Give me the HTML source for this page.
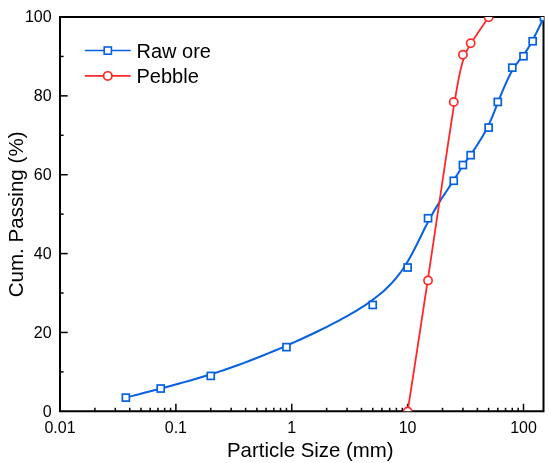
<!DOCTYPE html>
<html><head><meta charset="utf-8"><title>Particle size distribution</title>
<style>html,body{margin:0;padding:0;background:#fff;}body{width:550px;height:463px;overflow:hidden;}svg{display:block;}text{font-family:"Liberation Sans",sans-serif;fill:#000;}</style></head><body>
<svg width="550" height="463" viewBox="0 0 550 463">
<rect width="550" height="463" fill="#fff"/>
<defs><clipPath id="plot"><rect x="60" y="17" width="483.7" height="394.3"/></clipPath></defs>
<g stroke="#000" stroke-width="2" fill="none" stroke-linecap="butt">
<path d="M60,412.3 V16 M59,17 H544.5 M543.5,16 V412.3 M59,411.3 H544.5"/>
</g><g stroke="#000" stroke-width="1.5" fill="none">
<line x1="60" y1="371.87" x2="63.60" y2="371.87"/>
<line x1="60" y1="332.44" x2="67.70" y2="332.44"/>
<line x1="60" y1="293.01" x2="63.60" y2="293.01"/>
<line x1="60" y1="253.58" x2="67.70" y2="253.58"/>
<line x1="60" y1="214.15" x2="63.60" y2="214.15"/>
<line x1="60" y1="174.72" x2="67.70" y2="174.72"/>
<line x1="60" y1="135.29" x2="63.60" y2="135.29"/>
<line x1="60" y1="95.86" x2="67.70" y2="95.86"/>
<line x1="60" y1="56.43" x2="63.60" y2="56.43"/>
<line x1="94.88" y1="411.3" x2="94.88" y2="407.80"/>
<line x1="115.29" y1="411.3" x2="115.29" y2="407.80"/>
<line x1="129.76" y1="411.3" x2="129.76" y2="407.80"/>
<line x1="140.99" y1="411.3" x2="140.99" y2="407.80"/>
<line x1="150.17" y1="411.3" x2="150.17" y2="407.80"/>
<line x1="157.93" y1="411.3" x2="157.93" y2="407.80"/>
<line x1="164.65" y1="411.3" x2="164.65" y2="407.80"/>
<line x1="170.57" y1="411.3" x2="170.57" y2="407.80"/>
<line x1="175.88" y1="411.3" x2="175.88" y2="403.80"/>
<line x1="210.76" y1="411.3" x2="210.76" y2="407.80"/>
<line x1="231.16" y1="411.3" x2="231.16" y2="407.80"/>
<line x1="245.64" y1="411.3" x2="245.64" y2="407.80"/>
<line x1="256.87" y1="411.3" x2="256.87" y2="407.80"/>
<line x1="266.04" y1="411.3" x2="266.04" y2="407.80"/>
<line x1="273.80" y1="411.3" x2="273.80" y2="407.80"/>
<line x1="280.52" y1="411.3" x2="280.52" y2="407.80"/>
<line x1="286.45" y1="411.3" x2="286.45" y2="407.80"/>
<line x1="291.75" y1="411.3" x2="291.75" y2="403.80"/>
<line x1="326.63" y1="411.3" x2="326.63" y2="407.80"/>
<line x1="347.04" y1="411.3" x2="347.04" y2="407.80"/>
<line x1="361.51" y1="411.3" x2="361.51" y2="407.80"/>
<line x1="372.74" y1="411.3" x2="372.74" y2="407.80"/>
<line x1="381.92" y1="411.3" x2="381.92" y2="407.80"/>
<line x1="389.68" y1="411.3" x2="389.68" y2="407.80"/>
<line x1="396.40" y1="411.3" x2="396.40" y2="407.80"/>
<line x1="402.32" y1="411.3" x2="402.32" y2="407.80"/>
<line x1="407.62" y1="411.3" x2="407.62" y2="403.80"/>
<line x1="442.51" y1="411.3" x2="442.51" y2="407.80"/>
<line x1="462.91" y1="411.3" x2="462.91" y2="407.80"/>
<line x1="477.39" y1="411.3" x2="477.39" y2="407.80"/>
<line x1="488.62" y1="411.3" x2="488.62" y2="407.80"/>
<line x1="497.79" y1="411.3" x2="497.79" y2="407.80"/>
<line x1="505.55" y1="411.3" x2="505.55" y2="407.80"/>
<line x1="512.27" y1="411.3" x2="512.27" y2="407.80"/>
<line x1="518.20" y1="411.3" x2="518.20" y2="407.80"/>
<line x1="523.50" y1="411.3" x2="523.50" y2="403.80"/>
</g>
<g font-size="16px">
<text x="51.6" y="416.80" text-anchor="end">0</text>
<text x="51.6" y="337.84" text-anchor="end">20</text>
<text x="51.6" y="258.88" text-anchor="end">40</text>
<text x="51.6" y="179.92" text-anchor="end">60</text>
<text x="51.6" y="100.96" text-anchor="end">80</text>
<text x="51.6" y="22.00" text-anchor="end">100</text>
<text x="60.00" y="433" text-anchor="middle">0.01</text>
<text x="175.88" y="433" text-anchor="middle">0.1</text>
<text x="291.75" y="433" text-anchor="middle">1</text>
<text x="407.62" y="433" text-anchor="middle">10</text>
<text x="523.50" y="433" text-anchor="middle">100</text>
</g>
<text x="310.3" y="456.6" font-size="20.4px" text-anchor="middle">Particle Size (mm)</text>
<text transform="translate(22.9,214.4) rotate(-90)" font-size="20.6px" text-anchor="middle">Cum. Passing (%)</text>
<g clip-path="url(#plot)">
<path d="M125.84,397.60 L132.55,395.86 L139.03,394.18 L145.29,392.56 L151.34,390.98 L157.21,389.45 L162.91,387.95 L168.46,386.48 L173.87,385.02 L179.16,383.58 L184.35,382.14 L189.46,380.70 L194.49,379.25 L199.47,377.78 L204.42,376.28 L209.35,374.76 L214.27,373.19 L219.20,371.58 L224.14,369.93 L229.09,368.23 L234.05,366.49 L239.02,364.70 L244.01,362.86 L249.03,360.98 L254.07,359.04 L259.14,357.05 L264.23,355.02 L269.36,352.92 L274.52,350.78 L279.73,348.58 L284.97,346.33 L290.25,344.02 L295.58,341.65 L300.92,339.23 L306.27,336.77 L311.61,334.27 L316.91,331.73 L322.17,329.17 L327.36,326.58 L332.47,323.97 L337.48,321.34 L342.37,318.70 L347.13,316.06 L351.74,313.42 L356.18,310.79 L360.43,308.16 L364.48,305.55 L368.31,302.96 L371.94,300.39 L375.36,297.82 L378.60,295.27 L381.67,292.71 L384.56,290.15 L387.30,287.58 L389.89,285.00 L392.35,282.40 L394.68,279.78 L396.89,277.14 L399.00,274.46 L401.01,271.75 L402.94,269.00 L404.79,266.20 L406.58,263.35 L408.32,260.46 L410.00,257.53 L411.63,254.57 L413.22,251.58 L414.78,248.57 L416.31,245.56 L417.81,242.53 L419.29,239.51 L420.76,236.49 L422.22,233.49 L423.68,230.50 L425.15,227.55 L426.62,224.63 L428.11,221.75 L429.61,218.91 L431.14,216.13 L432.67,213.40 L434.22,210.73 L435.77,208.12 L437.31,205.57 L438.84,203.09 L440.36,200.67 L441.85,198.33 L443.32,196.06 L444.75,193.86 L446.13,191.75 L447.48,189.72 L448.76,187.77 L449.99,185.91 L451.16,184.14 L452.25,182.46 L453.28,180.87 L454.25,179.36 L455.16,177.93 L456.01,176.58 L456.82,175.29 L457.58,174.07 L458.31,172.91 L458.99,171.81 L459.65,170.76 L460.28,169.76 L460.88,168.80 L461.46,167.88 L462.03,166.99 L462.59,166.14 L463.14,165.31 L463.69,164.50 L464.24,163.71 L464.79,162.92 L465.35,162.13 L465.91,161.33 L466.49,160.52 L467.09,159.69 L467.70,158.83 L468.34,157.94 L469.01,157.02 L469.70,156.04 L470.42,155.01 L471.19,153.92 L471.98,152.77 L472.83,151.54 L473.71,150.25 L474.62,148.88 L475.57,147.45 L476.54,145.97 L477.54,144.43 L478.54,142.85 L479.56,141.23 L480.57,139.58 L481.59,137.90 L482.60,136.19 L483.60,134.47 L484.58,132.73 L485.53,130.99 L486.46,129.24 L487.36,127.50 L488.22,125.77 L489.05,124.04 L489.84,122.32 L490.62,120.59 L491.37,118.86 L492.11,117.12 L492.83,115.37 L493.54,113.61 L494.25,111.83 L494.96,110.03 L495.67,108.21 L496.39,106.37 L497.12,104.50 L497.86,102.59 L498.62,100.66 L499.40,98.69 L500.20,96.69 L501.02,94.67 L501.86,92.63 L502.71,90.60 L503.57,88.57 L504.44,86.56 L505.31,84.57 L506.19,82.61 L507.07,80.70 L507.95,78.83 L508.82,77.03 L509.69,75.29 L510.55,73.63 L511.41,72.05 L512.24,70.57 L513.07,69.18 L513.88,67.87 L514.69,66.63 L515.48,65.46 L516.27,64.34 L517.06,63.27 L517.84,62.23 L518.62,61.21 L519.40,60.22 L520.18,59.23 L520.97,58.23 L521.76,57.23 L522.55,56.20 L523.36,55.14 L524.17,54.04 L525.00,52.89 L525.86,51.65 L526.74,50.32 L527.68,48.85 L528.67,47.23 L529.72,45.43 L530.85,43.44 L532.07,41.21 L533.39,38.73 L534.81,35.98 L536.35,32.92 L538.02,29.54 L539.83,25.81 L541.79,21.70 L543.90,17.20" fill="none" stroke="#0560E2" stroke-width="2" stroke-linejoin="round"/>
<path d="M407.62,411.40 L408.54,405.51 L409.45,399.68 L410.35,393.90 L411.23,388.18 L412.11,382.51 L412.98,376.90 L413.84,371.35 L414.68,365.85 L415.52,360.41 L416.35,355.03 L417.17,349.70 L417.97,344.43 L418.77,339.21 L419.56,334.05 L420.34,328.94 L421.11,323.89 L421.87,318.89 L422.62,313.95 L423.36,309.06 L424.09,304.23 L424.82,299.45 L425.53,294.73 L426.24,290.06 L426.93,285.45 L427.62,280.89 L428.30,276.38 L428.97,271.93 L429.63,267.54 L430.28,263.19 L430.92,258.90 L431.56,254.67 L432.18,250.49 L432.80,246.36 L433.41,242.28 L434.01,238.26 L434.60,234.29 L435.18,230.38 L435.76,226.52 L436.32,222.71 L436.88,218.95 L437.43,215.25 L437.98,211.60 L438.51,208.00 L439.04,204.45 L439.55,200.96 L440.07,197.52 L440.57,194.13 L441.06,190.79 L441.55,187.51 L442.03,184.27 L442.50,181.09 L442.97,177.96 L443.43,174.88 L443.88,171.85 L444.32,168.88 L444.75,165.95 L445.18,163.08 L445.60,160.26 L446.02,157.49 L446.42,154.77 L446.82,152.10 L447.22,149.48 L447.60,146.91 L447.98,144.39 L448.35,141.92 L448.72,139.51 L449.08,137.14 L449.43,134.82 L449.77,132.55 L450.11,130.33 L450.45,128.16 L450.77,126.04 L451.09,123.96 L451.41,121.92 L451.72,119.94 L452.02,117.99 L452.32,116.09 L452.61,114.24 L452.90,112.42 L453.18,110.65 L453.46,108.92 L453.73,107.23 L453.99,105.58 L454.25,103.97 L454.51,102.39 L454.76,100.86 L455.01,99.36 L455.25,97.90 L455.49,96.48 L455.73,95.09 L455.96,93.73 L456.18,92.41 L456.40,91.12 L456.62,89.87 L456.84,88.65 L457.05,87.46 L457.26,86.29 L457.46,85.16 L457.66,84.06 L457.86,82.99 L458.06,81.95 L458.25,80.93 L458.44,79.94 L458.63,78.98 L458.81,78.04 L458.99,77.13 L459.17,76.24 L459.35,75.38 L459.52,74.53 L459.70,73.71 L459.87,72.92 L460.04,72.14 L460.21,71.38 L460.37,70.64 L460.54,69.93 L460.70,69.23 L460.86,68.55 L461.02,67.88 L461.18,67.23 L461.34,66.60 L461.50,65.98 L461.66,65.38 L461.81,64.79 L461.97,64.21 L462.13,63.65 L462.28,63.10 L462.44,62.56 L462.59,62.03 L462.75,61.51 L462.90,61.00 L463.06,60.49 L463.22,60.00 L463.37,59.51 L463.53,59.03 L463.69,58.56 L463.85,58.09 L464.01,57.63 L464.17,57.17 L464.34,56.71 L464.51,56.26 L464.68,55.81 L464.85,55.37 L465.02,54.93 L465.20,54.48 L465.39,54.04 L465.57,53.60 L465.77,53.16 L465.96,52.72 L466.16,52.28 L466.37,51.83 L466.58,51.39 L466.80,50.94 L467.02,50.48 L467.25,50.03 L467.49,49.57 L467.73,49.10 L467.98,48.63 L468.24,48.16 L468.50,47.67 L468.77,47.18 L469.06,46.69 L469.35,46.18 L469.64,45.67 L469.95,45.15 L470.27,44.62 L470.59,44.07 L470.93,43.52 L471.28,42.96 L471.64,42.39 L472.00,41.80 L472.38,41.20 L472.77,40.59 L473.17,39.96 L473.59,39.32 L474.01,38.67 L474.45,38.00 L474.90,37.31 L475.37,36.61 L475.85,35.89 L476.34,35.15 L476.84,34.40 L477.36,33.63 L477.89,32.84 L478.44,32.03 L479.01,31.20 L479.58,30.35 L480.18,29.48 L480.79,28.58 L481.41,27.67 L482.06,26.73 L482.71,25.77 L483.39,24.79 L484.08,23.78 L484.79,22.75 L485.52,21.69 L486.27,20.61 L487.03,19.50 L487.82,18.36 L488.62,17.20" fill="none" stroke="#FF2828" stroke-width="1.8" stroke-linejoin="round"/>
<rect x="122.34" y="394.10" width="7" height="7" fill="#fff" stroke="#0560E2" stroke-width="1.7"/>
<rect x="157.22" y="385.04" width="7" height="7" fill="#fff" stroke="#0560E2" stroke-width="1.7"/>
<rect x="207.26" y="372.42" width="7" height="7" fill="#fff" stroke="#0560E2" stroke-width="1.7"/>
<rect x="282.95" y="343.65" width="7" height="7" fill="#fff" stroke="#0560E2" stroke-width="1.7"/>
<rect x="369.24" y="301.47" width="7" height="7" fill="#fff" stroke="#0560E2" stroke-width="1.7"/>
<rect x="404.12" y="264.02" width="7" height="7" fill="#fff" stroke="#0560E2" stroke-width="1.7"/>
<rect x="424.53" y="214.74" width="7" height="7" fill="#fff" stroke="#0560E2" stroke-width="1.7"/>
<rect x="450.24" y="177.29" width="7" height="7" fill="#fff" stroke="#0560E2" stroke-width="1.7"/>
<rect x="459.41" y="161.52" width="7" height="7" fill="#fff" stroke="#0560E2" stroke-width="1.7"/>
<rect x="467.17" y="151.67" width="7" height="7" fill="#fff" stroke="#0560E2" stroke-width="1.7"/>
<rect x="485.12" y="124.08" width="7" height="7" fill="#fff" stroke="#0560E2" stroke-width="1.7"/>
<rect x="494.29" y="98.45" width="7" height="7" fill="#fff" stroke="#0560E2" stroke-width="1.7"/>
<rect x="508.77" y="64.16" width="7" height="7" fill="#fff" stroke="#0560E2" stroke-width="1.7"/>
<rect x="520.00" y="52.73" width="7" height="7" fill="#fff" stroke="#0560E2" stroke-width="1.7"/>
<rect x="529.18" y="37.75" width="7" height="7" fill="#fff" stroke="#0560E2" stroke-width="1.7"/>
<rect x="540.40" y="13.70" width="7" height="7" fill="#fff" stroke="#0560E2" stroke-width="1.7"/>
<circle cx="407.62" cy="411.40" r="4.1" fill="#fff" stroke="#FF2828" stroke-width="1.7"/>
<circle cx="428.03" cy="280.53" r="4.1" fill="#fff" stroke="#FF2828" stroke-width="1.7"/>
<circle cx="453.74" cy="101.95" r="4.1" fill="#fff" stroke="#FF2828" stroke-width="1.7"/>
<circle cx="462.91" cy="54.65" r="4.1" fill="#fff" stroke="#FF2828" stroke-width="1.7"/>
<circle cx="470.67" cy="43.22" r="4.1" fill="#fff" stroke="#FF2828" stroke-width="1.7"/>
<circle cx="488.62" cy="17.20" r="4.1" fill="#fff" stroke="#FF2828" stroke-width="1.7"/>
</g>
<line x1="84.8" y1="50.6" x2="130.7" y2="50.6" stroke="#0560E2" stroke-width="1.5"/>
<rect x="104.2" y="47" width="7.2" height="7.2" fill="#fff" stroke="#0560E2" stroke-width="1.6"/>
<line x1="84.8" y1="75.9" x2="130.7" y2="75.9" stroke="#FF2828" stroke-width="1.8"/>
<circle cx="107.8" cy="75.9" r="4.15" fill="#fff" stroke="#FF2828" stroke-width="1.7"/>
<g font-size="20px"><text x="136.5" y="57.9">Raw ore</text><text x="136.5" y="83.2">Pebble</text></g>
</svg></body></html>
